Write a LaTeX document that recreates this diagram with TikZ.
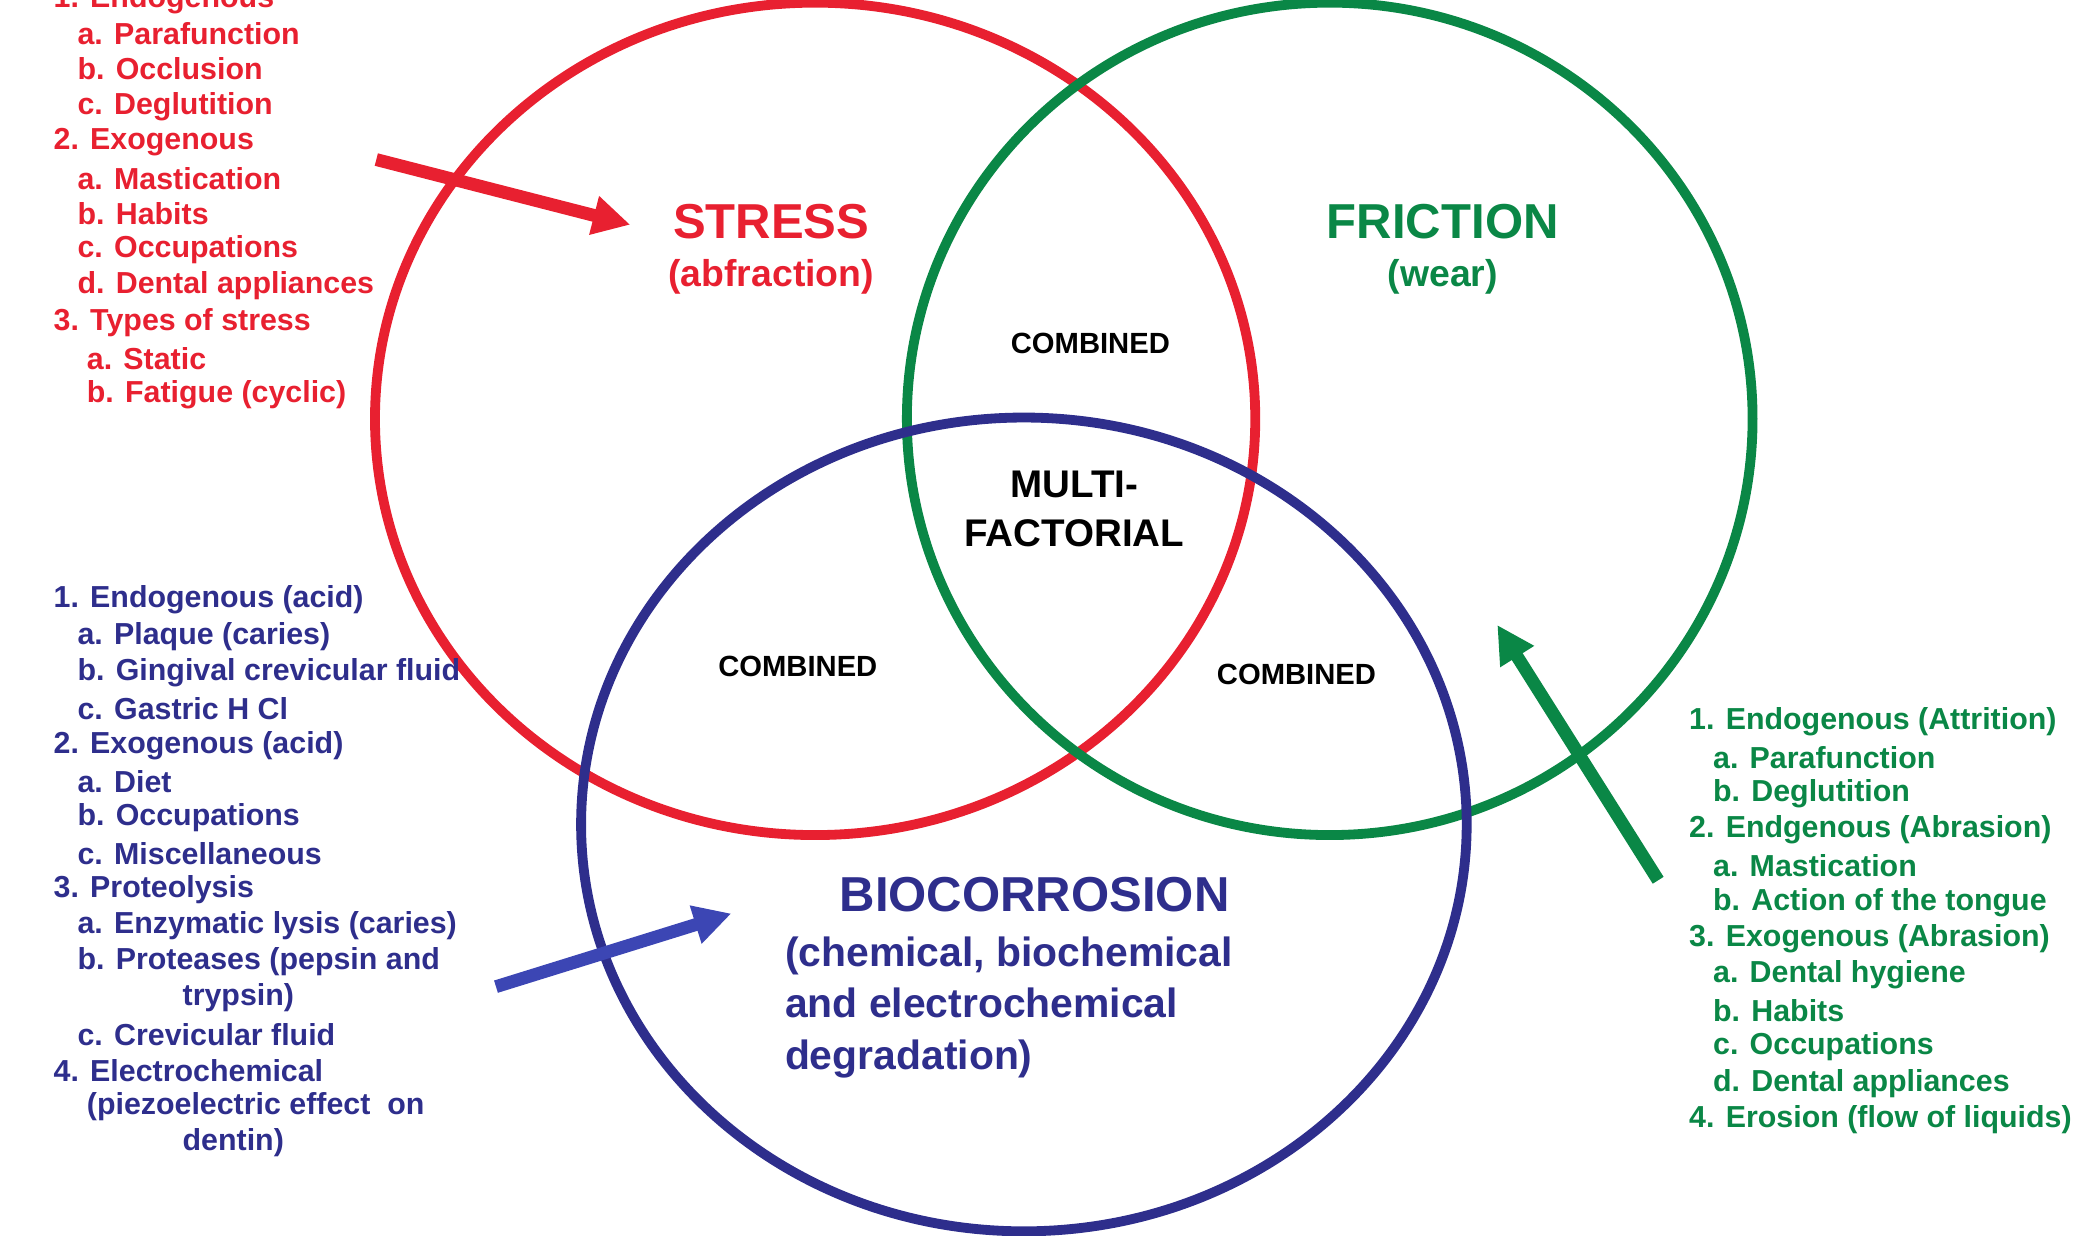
\documentclass[tikz,border=0pt]{standalone}
\usepackage{fontspec}
\setmainfont{Liberation Sans}
\usetikzlibrary{arrows.meta}
\definecolor{cred}{RGB}{232,32,48}
\definecolor{cgreen}{RGB}{10,135,70}
\definecolor{cblue}{RGB}{46,46,140}
\definecolor{cblueA}{RGB}{60,70,180}
\begin{document}
\begin{tikzpicture}[x=0.02cm,y=-0.02cm,
  circ/.style={line width=4.2pt},
  lst/.style={anchor=west,inner sep=0pt,font=\fontsize{13}{15}\selectfont\bfseries},
  big/.style={font=\fontsize{21}{23}\selectfont\bfseries},
  mid/.style={font=\fontsize{16}{18}\selectfont\bfseries},
  sm/.style={font=\fontsize{12.5}{14}\selectfont\bfseries},
  arr/.style={line width=5.5pt,-{Triangle[length=16pt,width=16pt]}}]
\useasboundingbox (0,0) rectangle (1568,929);
\draw[circ,cred] (613,315) ellipse [x radius=331,y radius=313];
\draw[circ,cgreen] (1000,315) ellipse [x radius=318,y radius=313];
\draw[circ,cblue] (770,620) ellipse [x radius=333,y radius=306];
% titles
\node[big,cred] (st) at (580,167) {STRESS};
\node[mid,cred] (ab) at (580,208) {(abfraction)};
\node[big,cgreen] (fr) at (1085,167) {FRICTION};
\node[mid,cgreen] (we) at (1085,208) {(wear)};
\node[sm] (c1) at (820,258) {COMBINED};
\node[font=\fontsize{16.5}{21}\selectfont\bfseries,align=center] (mf) at (808,383) {MULTI-\\FACTORIAL};
\node[sm] (c2) at (600,501) {COMBINED};
\node[sm] (c3) at (975,507) {COMBINED};
\node[big,cblue] (bio) at (778,673) {BIOCORROSION};
\node[anchor=north west,inner sep=0pt,align=left,font=\fontsize{17.5}{22}\selectfont\bfseries,cblue] (bd) at (590,704) {(chemical, biochemical\\and electrochemical\\degradation)};
% red list
\foreach \x/\y/\t [count=\i] in {40/0/{1. Endogenous},58/25/{a. Parafunction},58/52/{b. Occlusion},58/80/{c. Deglutition},40/107/{2. Exogenous},58/134/{a. Mastication},58/161/{b. Habits},58/188/{c. Occupations},58/215/{d. Dental appliances},40/243/{3. Types of stress},65/270/{a. Static},65/297/{b. Fatigue (cyclic)}}
  \node[lst,cred] (r\i) at (\x,\y) {\t};
% blue list
\foreach \x/\y/\t [count=\i] in {40/451/{1. Endogenous (acid)},58/479/{a. Plaque (caries)},58/506/{b. Gingival crevicular fluid},58/533/{c. Gastric H Cl},40/561/{2. Exogenous (acid)},58/588/{a. Diet},58/615/{b. Occupations},58/642/{c. Miscellaneous},40/669/{3. Proteolysis},58/696/{a. Enzymatic lysis (caries)},58/723/{b. Proteases (pepsin and},137/750/{trypsin)},58/778/{c. Crevicular fluid},40/805/{4. Electrochemical},65/832/{(piezoelectric effect\ \ on},137/859/{dentin)}}
  \node[lst,cblue] (b\i) at (\x,\y) {\t};
% green list
\foreach \x/\y/\t [count=\i] in {1270/543/{1. Endogenous (Attrition)},1288/570/{a. Parafunction},1288/597/{b. Deglutition},1270/624/{2. Endgenous (Abrasion)},1288/651/{a. Mastication},1288/679/{b. Action of the tongue},1270/706/{3. Exogenous (Abrasion)},1288/733/{a. Dental hygiene},1288/760/{b. Habits},1288/787/{c. Occupations},1288/815/{d. Dental appliances},1270/842/{4. Erosion (flow of liquids)}}
  \node[lst,cgreen] (g\i) at (\x,\y) {\t};
% arrows
\coordinate (ra) at (283,120); \coordinate (rb) at (474,169);
\coordinate (ga) at (1247,662); \coordinate (gb) at (1126,470);
\coordinate (ba) at (373,742); \coordinate (bb) at (550,687);
\draw[arr,cred] (ra) -- (rb);
\draw[arr,cgreen] (ga) -- (gb);
\draw[arr,cblueA] (ba) -- (bb);
\end{tikzpicture}
\end{document}
